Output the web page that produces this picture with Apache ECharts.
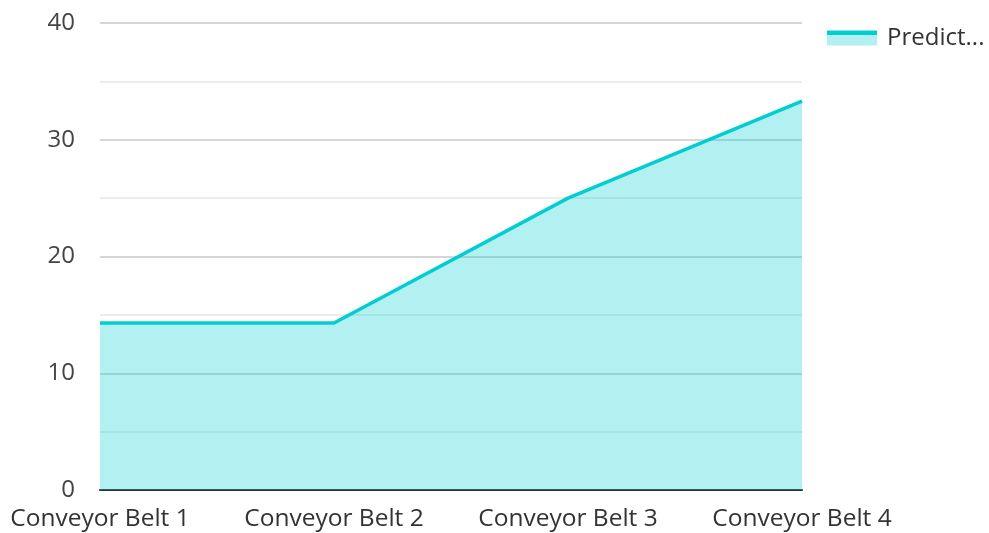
<!DOCTYPE html>
<html><head><meta charset="utf-8">
<script src="https://cdn.jsdelivr.net/npm/echarts@6/dist/echarts.min.js"></script>
<style>html,body{margin:0;padding:0;background:#fff}#c{width:989px;height:533px}</style>
</head><body><div id="c"></div>
<script>
const categories = ['Conveyor Belt 1', 'Conveyor Belt 2', 'Conveyor Belt 3', 'Conveyor Belt 4'];
const seriesName = 'Predicted Downtime';
const values = [14.3, 14.3, 25.0, 33.3];
const yTicks = [0, 10, 20, 30, 40];

const chart = echarts.init(document.getElementById('c'));
const font = "'Open Sans', 'Noto Sans', sans-serif";
chart.setOption({
  animation: false,
  grid: { left: 100, right: 187, top: 23, bottom: 43, containLabel: false },
  legend: {
    left: 822, top: 21, orient: 'vertical',
    icon: 'rect', itemWidth: 50, itemHeight: 15, itemGap: 10,
    textStyle: { fontFamily: font, fontSize: 24, color: '#333', width: 108, overflow: 'truncate', ellipsis: '...', padding: [0, 0, 0, 5] },
    data: [{ name: seriesName, itemStyle: { color: { type: 'linear', x: 0, y: 0, x2: 0, y2: 1, colorStops: [
      { offset: 0, color: '#00ced1' }, { offset: 0.27, color: '#00ced1' }, { offset: 0.27, color: '#b2f0f1' }, { offset: 1, color: '#b2f0f1' }] } } }]
  },
  xAxis: {
    type: 'category', data: categories, boundaryGap: false,
    axisLine: { lineStyle: { color: '#333', width: 2 } },
    axisTick: { show: false },
    axisLabel: { fontFamily: font, fontSize: 24.5, color: '#333', margin: 17 },
    splitLine: { show: false }
  },
  yAxis: {
    type: 'value', min: yTicks[0], max: yTicks[yTicks.length - 1], interval: 10,
    axisLine: { show: false }, axisTick: { show: false },
    axisLabel: { fontFamily: font, fontSize: 24, color: '#444', margin: 25 },
    splitLine: { lineStyle: { color: '#c8c8c8', width: 1.5 } },
    minorTick: { show: false, splitNumber: 2 },
    minorSplitLine: { show: true, lineStyle: { color: '#e6e6e6', width: 1.5 } }
  },
  series: [{
    name: seriesName, type: 'line', data: values,
    symbol: 'none', lineStyle: { color: '#00ced1', width: 3.5 },
    itemStyle: { color: '#00ced1' },
    areaStyle: { color: '#00ced1', opacity: 0.3 },
    z: 1
  }]
});
</script></body></html>
